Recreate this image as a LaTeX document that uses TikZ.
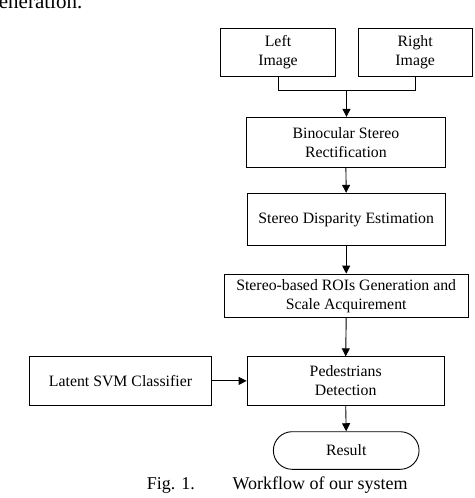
\documentclass[tikz,border=0pt]{standalone}
\usepackage{fontspec}
\setmainfont{Liberation Serif}
\usetikzlibrary{arrows.meta}
\begin{document}
\begin{tikzpicture}[x=1pt,y=-1pt,
  box/.style={draw, line width=0.9pt, inner sep=0pt, align=center, font=\fontsize{15.8}{19}\selectfont},
  arr/.style={-{Triangle[length=8pt,width=8pt]}, line width=0.9pt},
  ln/.style={line width=0.9pt},
  captext/.style={font=\fontsize{18}{21}\selectfont, inner sep=0pt}]
\useasboundingbox (0,0) rectangle (474,498);
\node[box, minimum width=114.6pt, minimum height=48.4pt] (left) at (278,52.5) {Left\\Image};
\node[box, minimum width=113.7pt, minimum height=48.4pt] (right) at (415.2,52.5) {Right\\Image};
\node[box, minimum width=198.3pt, minimum height=50.4pt] (bino) at (345.9,142.5) {Binocular Stereo\\Rectification};
\node[box, minimum width=197.7pt, minimum height=52.4pt] (disp) at (346.2,219.5) {Stereo Disparity Estimation};
\node[box, minimum width=244.3pt, minimum height=43.3pt] (roi) at (346.2,295.7) {Stereo-based ROIs Generation and\\Scale Acquirement};
\node[box, minimum width=197.3pt, minimum height=48.3pt] (ped) at (345.7,380.9) {Pedestrians\\Detection};
\node[box, minimum width=182.4pt, minimum height=48.3pt] (latent) at (120.5,380.9) {Latent SVM Classifier};
\node[box, minimum width=145.7pt, minimum height=37.6pt, rounded corners=18.8pt] (result) at (346.2,450.5) {Result};
\coordinate (join) at (346.5,90.7);
\draw[ln] (left.south) |- (join) -| (right.south);
\draw[arr] (join) -- (join |- bino.north);
\draw[arr] (bino.south) -- (disp.north);
\draw[arr] (disp.south) -- (roi.north);
\draw[arr] (roi.south) -- (ped.north);
\draw[arr] (latent.east) -- (ped.west);
\draw[arr] (ped.south) -- (result.north);
\node[captext, anchor=base west] (fig) at (146.7,489) {Fig. 1.};
\node[captext, anchor=base west] (caption) at (232.3,489) {Workflow of our system};
\node[font=\fontsize{21}{24}\selectfont, inner sep=0pt, anchor=base east] (prev) at (82.5,8.5) {generation.};
\end{tikzpicture}
\end{document}
